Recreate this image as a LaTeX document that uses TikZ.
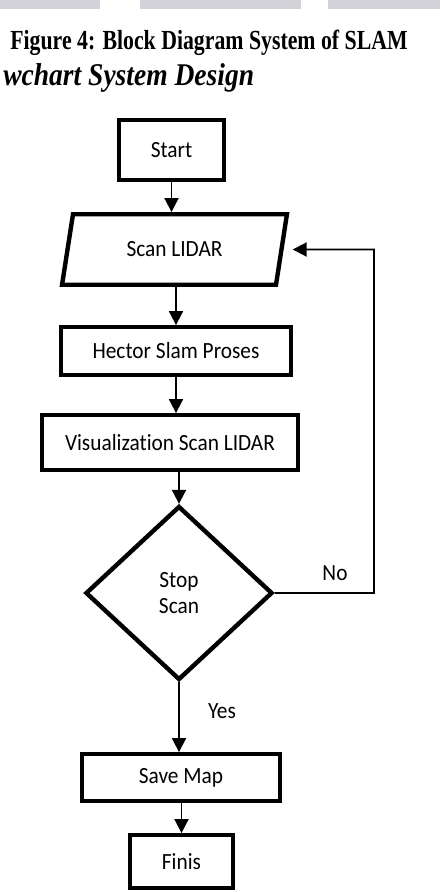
\documentclass[tikz,border=0pt]{standalone}
\usepackage{fontspec}
\setmainfont{Carlito}[FakeStretch=0.92, Ligatures=NoCommon]
\newfontfamily\capfont{Liberation Serif}[FakeStretch=0.79]
\newfontfamily\headfont{Liberation Serif}[FakeStretch=0.87]
\usetikzlibrary{shapes.geometric,arrows.meta}
\definecolor{bargray}{RGB}{212,210,217}
\tikzset{
  box/.style={draw, line width=2.5pt, rectangle, inner sep=2pt, font=\fontsize{13.2}{15.3}\selectfont},
  flow/.style={->, line width=1.1pt},
  lbl/.style={font=\fontsize{13.2}{15.3}\selectfont},
}
\begin{document}
\begin{tikzpicture}[x=0.02cm, y=-0.02cm, >={Triangle[width=0.28cm,length=0.28cm]}]
    \useasboundingbox (0,0) rectangle (440,892);
    \fill[bargray] (0,0) rectangle (100,9);
    \fill[bargray] (140,0) rectangle (301,9);
    \fill[bargray] (328,0) rectangle (440,9);

    \node[anchor=base west, inner sep=0, font=\capfont\bfseries\fontsize{15.7}{18}\selectfont] (caption) at (10,50) {Figure 4: Block Diagram System of SLAM};
    \node[anchor=base west, inner sep=0, font=\headfont\bfseries\itshape\fontsize{18}{21}\selectfont] (heading) at (3,86) {wchart System Design};

    \node[box, minimum width=2.09cm, minimum height=1.19cm] (start) at (171.5,150) {Start};
    \node[box, trapezium, trapezium left angle=76, trapezium right angle=104, trapezium stretches=true,
          minimum width=4.53cm, minimum height=1.41cm] (scan) at (174.5,249.5) {Scan LIDAR};
    \node[box, minimum width=4.59cm, minimum height=0.95cm] (hector) at (176,351) {Hector Slam Proses};
    \node[box, minimum width=5.11cm, minimum height=1.09cm] (vis) at (170,442.5) {Visualization Scan LIDAR};
    \node[box, diamond, align=center, minimum width=3.74cm, minimum height=3.48cm] (stop) at (179,593) {Stop\\Scan};
    \node[box, minimum width=3.95cm, minimum height=0.93cm] (save) at (181,777.5) {Save Map};
    \node[box, minimum width=2.05cm, minimum height=1.05cm] (finis) at (181.5,861.5) {Finis};

    \node[lbl] (no) at (335,573) {No};
    \node[lbl] (yes) at (222,711) {Yes};
    \coordinate (loop) at (374,249.5);

    \draw[flow] (start.south) -- (start.south |- scan.north);
    \draw[flow] (hector.north |- scan.south) -- (hector.north);
    \draw[flow] (hector.south) -- (hector.south |- vis.north);
    \draw[flow] (stop.north |- vis.south) -- (stop.north);
    \draw[flow] (stop.south) -- (stop.south |- save.north);
    \draw[flow] (finis.north |- save.south) -- (finis.north);
    \draw[flow, shorten >=0.18cm] (stop.east) -| (loop) -- (scan.east);
\end{tikzpicture}
\end{document}
